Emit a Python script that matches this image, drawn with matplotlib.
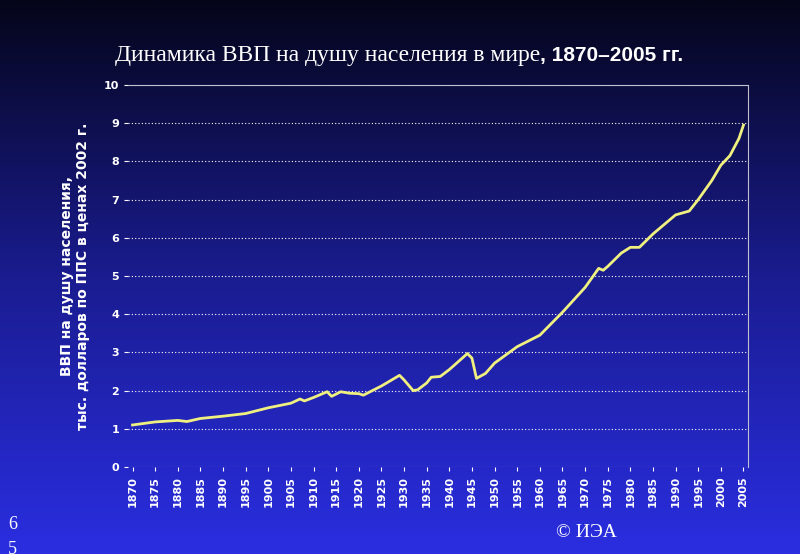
import matplotlib
matplotlib.use("Agg")
import matplotlib.pyplot as plt
import numpy as np
from matplotlib.colors import LinearSegmentedColormap

years = [1870,1875,1880,1882,1885,1890,1895,1900,1905,1907,1908,1910,1913,1914,1916,1918,1920,1921,1925,1929,1930,1932,1933,1935,1936,1938,1940,1944,1945,1946,1948,1950,1955,1960,1965,1970,1973,1974,1975,1978,1980,1982,1985,1990,1993,1995,1998,2000,2002,2004,2005]
gdp = [1.1,1.18,1.22,1.19,1.27,1.33,1.4,1.55,1.67,1.78,1.73,1.82,1.97,1.85,1.97,1.93,1.92,1.88,2.12,2.4,2.28,2.0,2.02,2.2,2.35,2.37,2.55,2.97,2.85,2.32,2.45,2.72,3.15,3.45,4.05,4.7,5.2,5.15,5.25,5.6,5.75,5.75,6.1,6.6,6.7,7.0,7.5,7.9,8.15,8.6,8.95]

fig = plt.figure(figsize=(8, 5.54), dpi=100)
bg = fig.add_axes([0, 0, 1, 1])
grad = np.linspace(0, 1, 256).reshape(-1, 1)
cmap = LinearSegmentedColormap.from_list("bg", ["#2a2ee0", "#1a1c90", "#05051a"])
bg.imshow(grad, aspect="auto", cmap=cmap, extent=[0, 1, 0, 1], origin="lower")
bg.axis("off")

ax = fig.add_axes([128/800, 1-467/554, 620/800, 382/554])
ax.patch.set_alpha(0)
ax.plot(years, gdp, color="#f0f080", lw=2)
ax.set_xlim(1869, 2006)
ax.set_ylim(0, 10)
ax.set_yticks(range(0, 11))
ax.set_xticks(range(1870, 2006, 5))
ax.tick_params(colors="white", labelsize=8, length=3)
for lbl in ax.get_xticklabels():
    lbl.set_rotation(90); lbl.set_fontweight("bold")
for lbl in ax.get_yticklabels():
    lbl.set_fontweight("bold")
ax.grid(axis="y", color="white", linestyle=(0, (1, 2)), lw=0.8)
for s in ["left", "bottom"]:
    ax.spines[s].set_visible(False)
for s in ["top", "right"]:
    ax.spines[s].set_color("#c0c0d0")
ax.set_ylabel("ВВП на душу населения,\nтыс. долларов по ППС в ценах 2002 г.", color="white", fontsize=10, fontweight="bold", labelpad=10)

fig.text(0.675, 0.9, "Динамика ВВП на душу населения в мире", color="white", fontsize=17, family="Liberation Serif", ha="right", va="center")
fig.text(0.675, 0.9, ", 1870–2005 гг.", color="white", fontsize=15, fontweight="bold", family="Liberation Sans", ha="left", va="center")
fig.text(0.695, 0.03, "© ИЭА", color="white", fontsize=14, family="Liberation Serif")
fig.text(0.01, 0.045, "6", color="white", fontsize=13, family="Liberation Serif")
fig.text(0.01, 0.0, "5", color="white", fontsize=13, family="Liberation Serif")
fig.savefig("out.png", dpi=100)
